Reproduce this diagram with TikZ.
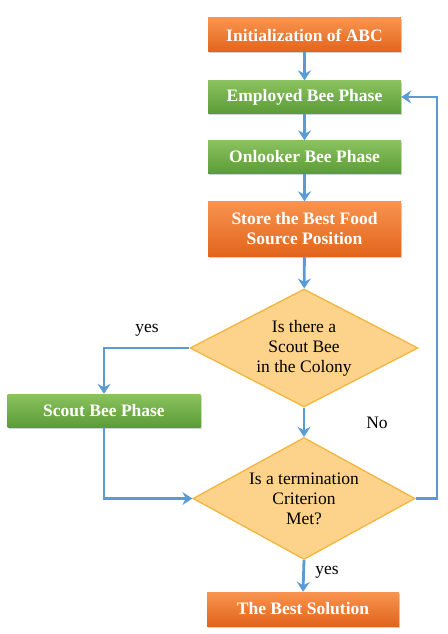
\documentclass[tikz,border=0pt]{standalone}
\usepackage{fontspec}
\setmainfont{Liberation Serif}
\usetikzlibrary{arrows.meta,shapes.geometric,shadows}
\definecolor{orTop}{HTML}{F8944F}
\definecolor{orBot}{HTML}{E2641C}
\definecolor{grTop}{HTML}{8AC25F}
\definecolor{grBot}{HTML}{5C9C36}
\definecolor{dFill}{HTML}{FDD38C}
\definecolor{dLine}{HTML}{F2B63E}
\definecolor{arr}{HTML}{5B9BD5}
\tikzset{
  box/.style={rectangle, minimum width=193pt, minimum height=34pt, inner sep=2pt,
    text=white, font=\fontsize{17.5}{20}\selectfont\bfseries, align=center,
    drop shadow={opacity=0.35, shadow xshift=1pt, shadow yshift=-1.5pt}},
  obox/.style={box, top color=orTop, bottom color=orBot},
  gbox/.style={box, top color=grTop, bottom color=grBot},
  dec/.style={diamond, shape aspect=1.9, fill=dFill, draw=dLine, line width=1.3pt,
    inner sep=0pt, align=center, font=\fontsize{17.5}{20}\selectfont},
  lbl/.style={font=\fontsize{17.5}{20}\selectfont, inner sep=0pt},
  flow/.style={draw=arr, line width=2.8pt, -{Stealth[length=10pt,width=13pt,inset=3.5pt]}},
}
\begin{document}
\begin{tikzpicture}[x=1pt,y=-1pt]
\useasboundingbox (0,0) rectangle (447,634);
\fill[white] (0,0) rectangle (447,634);
\node[obox] (init) at (304.5,35) {Initialization of ABC};
\node[gbox, minimum height=33pt] (emp) at (304.5,97) {Employed Bee Phase};
\node[gbox, minimum height=33pt] (onl) at (304.5,157) {Onlooker Bee Phase};
\node[obox, minimum height=55pt] (store) at (304.5,229) {Store the Best Food\\Source Position};
\node[dec, minimum width=228pt, minimum height=118pt] (d1) at (304,348) {Is there a\\Scout Bee\\in the Colony};
\node[dec, minimum width=222pt, minimum height=122pt] (d2) at (304,498.5) {Is a termination\\Criterion\\Met?};
\node[gbox, minimum height=33pt] (scout) at (104,410.5) {Scout Bee Phase};
\node[obox, minimum width=192pt] (best) at (303,609) {The Best Solution};
\coordinate (loop) at (437,498.5);

\draw[flow] (init) -- (emp);
\draw[flow] (emp) -- (onl);
\draw[flow] (onl) -- (store);
\draw[flow] (store) -- (d1);
\draw[flow] (d1) -- (d2);
\draw[flow] (d1.west) -| (scout.north);
\draw[flow] (scout.south) |- (d2.west);
\draw[flow] (d2.east) -- (loop) |- (emp.east);
\draw[flow] (d2.south) -- (best.north);

\node[lbl] (yes1) at (147,330) {yes};
\node[lbl] (no) at (377,423) {No};
\node[lbl] (yes2) at (327,572) {yes};
\end{tikzpicture}
\end{document}
